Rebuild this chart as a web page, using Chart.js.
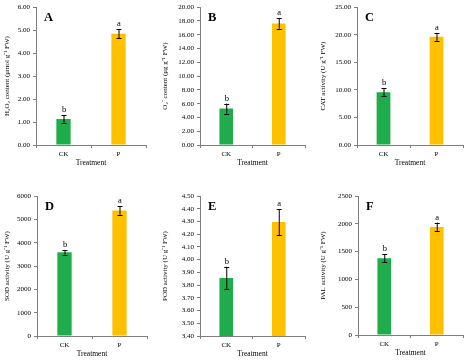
<!DOCTYPE html>
<html lang="en">
<head>
    <meta charset="UTF-8">
    <title>Antioxidant panels</title>
    <script src="https://cdn.jsdelivr.net/npm/chart.js"></script>
    <style>
        html, body { margin: 0; padding: 0; background: #fff; }
        #wrap { position: relative; width: 474px; height: 362px; }
        #wrap canvas { position: absolute; }
    </style>
</head>
<body>
    <div id="wrap"></div>

    <script>
        // data
        const categories = ['CK', 'P'];
        const panelLetters = ['A', 'B', 'C', 'D', 'E', 'F'];
        const yTitles = [
            'H₂O₂ content (μmol g⁻¹ FW)',
            'O₂⁻ content (μg g⁻¹ FW)',
            'CAT activity (U g⁻¹ FW)',
            'SOD activity (U g⁻¹ FW)',
            'POD activity (U g⁻¹ FW)',
            'PAL activity (U g⁻¹ FW)'
        ];
        const h2o2 = [1.13, 4.84];
        const h2o2Err = [0.18, 0.19];
        const o2 = [5.28, 17.65];
        const o2Err = [0.73, 0.77];
        const cat = [9.55, 19.62];
        const catErr = [0.75, 0.72];
        const sod = [3590, 5380];
        const sodErr = [100, 180];
        const pod = [3.855, 4.295];
        const podErr = [0.089, 0.102];
        const pal = [1380, 1942];
        const palErr = [75, 80];
        const sigLetters = ['b', 'a'];

        const yMins = [0, 0, 0, 0, 3.4, 0];
        const yMaxs = [6, 20, 25, 6000, 4.5, 2500];
        const ySteps = [1, 2, 5, 1000, 0.1, 500];
        const yDecimals = [2, 2, 2, 0, 2, 0];

        const values = [h2o2, o2, cat, sod, pod, pal];
        const errors = [h2o2Err, o2Err, catErr, sodErr, podErr, palErr];

        const barColors = ['#1fad4b', '#ffc000'];
        const serif = '"Liberation Serif", "Times New Roman", serif';
        const axisColor = '#7f7f7f';

        // panel geometry (canvas box + plot offsets)
        const panelLeft = [0, 158, 316, 0, 158, 316];
        const panelTop = [0, 0, 0, 181, 181, 181];
        const yAxisWidth = [36, 42, 41, 37, 42, 42];
        const padTop = [6, 6, 7, 15, 15, 15];
        const padBottom = [13, 13, 13, 3, 3, 4];
        const padRight = [12, 11, 11, 11, 11, 11];

        const annotatePlugin = {
            id: 'annotate',
            afterDatasetsDraw(chart, args, opts) {
                const ctx = chart.ctx;
                const yScale = chart.scales.y;
                const meta = chart.getDatasetMeta(0);
                ctx.save();
                meta.data.forEach((bar, i) => {
                    const m = opts.means[i];
                    const e = opts.errors[i];
                    const yTop = yScale.getPixelForValue(m + e);
                    const yBot = yScale.getPixelForValue(m - e);
                    ctx.strokeStyle = '#000';
                    ctx.lineWidth = 1;
                    ctx.beginPath();
                    ctx.moveTo(bar.x + 0.5, yTop);
                    ctx.lineTo(bar.x + 0.5, yBot);
                    ctx.moveTo(bar.x - 2, Math.round(yTop) + 0.5);
                    ctx.lineTo(bar.x + 3, Math.round(yTop) + 0.5);
                    ctx.moveTo(bar.x - 2, Math.round(yBot) + 0.5);
                    ctx.lineTo(bar.x + 3, Math.round(yBot) + 0.5);
                    ctx.stroke();

                    ctx.fillStyle = '#000';
                    ctx.font = '8.5px ' + serif;
                    ctx.textAlign = 'center';
                    ctx.textBaseline = 'bottom';
                    ctx.fillText(opts.letters[i], bar.x + 0.5, yTop - 1);
                });
                const area = chart.chartArea;
                ctx.font = 'bold 12.5px ' + serif;
                ctx.textAlign = 'left';
                ctx.textBaseline = 'middle';
                ctx.fillStyle = '#000';
                ctx.fillText(opts.panel, area.left + 8, area.top + 11);
                ctx.restore();
            }
        };

        function makePanel(i) {
            const canvas = document.createElement('canvas');
            canvas.width = 158;
            canvas.height = 181;
            canvas.style.left = panelLeft[i] + 'px';
            canvas.style.top = panelTop[i] + 'px';
            document.getElementById('wrap').appendChild(canvas);

            new Chart(canvas.getContext('2d'), {
                type: 'bar',
                data: {
                    labels: categories,
                    datasets: [{
                        data: values[i],
                        backgroundColor: barColors,
                        borderWidth: 0,
                        categoryPercentage: 1,
                        barPercentage: 0.26
                    }]
                },
                options: {
                    responsive: false,
                    animation: false,
                    events: [],
                    layout: {
                        autoPadding: false,
                        padding: { top: padTop[i], bottom: padBottom[i], right: padRight[i], left: 0 }
                    },
                    plugins: {
                        legend: { display: false },
                        tooltip: { enabled: false },
                        annotate: {
                            means: values[i],
                            errors: errors[i],
                            letters: sigLetters,
                            panel: panelLetters[i]
                        }
                    },
                    scales: {
                        x: {
                            grid: {
                                display: true,
                                drawOnChartArea: false,
                                drawTicks: true,
                                tickLength: 3,
                                color: axisColor
                            },
                            border: { color: axisColor },
                            ticks: {
                                color: '#000',
                                padding: 2,
                                font: { family: serif, size: 7 }
                            },
                            title: {
                                display: true,
                                text: 'Treatment',
                                color: '#000',
                                padding: 0,
                                font: { family: serif, size: 7.5 }
                            },
                            afterFit(scale) { scale.height = 23; }
                        },
                        y: {
                            min: yMins[i],
                            max: yMaxs[i],
                            grid: {
                                display: true,
                                drawOnChartArea: false,
                                drawTicks: true,
                                tickLength: 3,
                                color: axisColor
                            },
                            border: { color: axisColor },
                            ticks: {
                                stepSize: ySteps[i],
                                color: '#000',
                                padding: 3,
                                font: { family: serif, size: 7 },
                                callback: v => v.toFixed(yDecimals[i])
                            },
                            title: {
                                display: true,
                                text: yTitles[i],
                                color: '#000',
                                padding: { top: 3, bottom: 0 },
                                font: { family: serif, size: 7 }
                            },
                            afterFit(scale) { scale.width = yAxisWidth[i]; }
                        }
                    }
                },
                plugins: [annotatePlugin]
            });
        }

        for (let i = 0; i < 6; i++) {
            makePanel(i);
        }
    </script>
</body>
</html>
